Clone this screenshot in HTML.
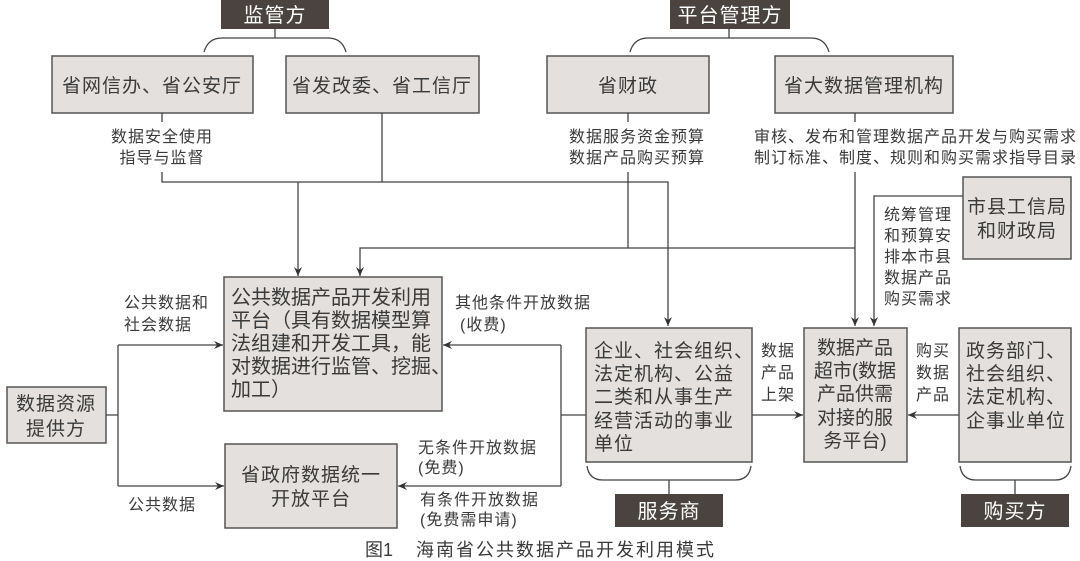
<!DOCTYPE html>
<html><head><meta charset="utf-8"><style>
html,body{margin:0;padding:0;background:#fff}
svg{display:block}
text{font-family:"Liberation Sans","Noto Sans CJK SC",sans-serif;fill:#3a3a3a}
.b{fill:#e3e0dd;stroke:#555;stroke-width:1.5}
.d{fill:#4a4340}
.w{fill:#fff}
.l{stroke:#444;stroke-width:1.3;fill:none}
</style></head><body>
<svg width="1080" height="561" viewBox="0 0 1080 561" xmlns="http://www.w3.org/2000/svg">
<defs><marker id="a" markerWidth="10" markerHeight="10" refX="9" refY="5" orient="auto" markerUnits="userSpaceOnUse"><path d="M0,1 L9,5 L0,9 L3,5 Z" fill="#333"/></marker></defs>

<rect class="d" x="221" y="0" width="108" height="29"/>
<text class="w" x="275" y="22" font-size="20" text-anchor="middle" letter-spacing="1">监管方</text>
<rect class="d" x="670" y="0" width="120" height="29"/>
<text class="w" x="730" y="22" font-size="20" text-anchor="middle" letter-spacing="1">平台管理方</text>
<path class="l" d="M275,29 V38 M204,52 Q208,38 222,38 H328 Q342,38 346,52"/>
<path class="l" d="M729,29 V38 M630,52 Q634,38 648,38 H811 Q825,38 829,52"/>

<rect class="b" x="52" y="56" width="201" height="57"/>
<text x="152" y="92" font-size="19" text-anchor="middle" letter-spacing="1">省网信办、省公安厅</text>
<rect class="b" x="286" y="56" width="193" height="57"/>
<text x="382" y="92" font-size="19" text-anchor="middle" letter-spacing="1">省发改委、省工信厅</text>
<rect class="b" x="547" y="56" width="162" height="57"/>
<text x="628" y="92" font-size="19" text-anchor="middle" letter-spacing="1">省财政</text>
<rect class="b" x="775" y="56" width="178" height="57"/>
<text x="864" y="92" font-size="19" text-anchor="middle" letter-spacing="1">省大数据管理机构</text>

<text x="162" y="142" font-size="16" text-anchor="middle" letter-spacing="1">数据安全使用</text>
<text x="162" y="163" font-size="16" text-anchor="middle" letter-spacing="1">指导与监督</text>
<text x="637" y="142" font-size="16" text-anchor="middle" letter-spacing="1">数据服务资金预算</text>
<text x="637" y="163" font-size="16" text-anchor="middle" letter-spacing="1">数据产品购买预算</text>
<text x="1077" y="142" font-size="16" text-anchor="end" letter-spacing="1">审核、发布和管理数据产品开发与购买需求</text>
<text x="1077" y="163" font-size="16" text-anchor="end" letter-spacing="1">制订标准、制度、规则和购买需求指导目录</text>

<path class="l" d="M162,113 V122 M162,172 V182 H668 V326" marker-end="url(#a)"/>
<path class="l" d="M382,113 V182"/>
<path class="l" d="M298,182 V276" marker-end="url(#a)"/>
<path class="l" d="M628,113 V122 M628,172 V248"/>
<path class="l" d="M855,113 V122 M855,172 V326" marker-end="url(#a)"/>
<path class="l" d="M855,248 H360 V276" marker-end="url(#a)"/>

<rect class="b" x="963" y="177" width="108" height="82"/>
<text x="1017" y="213" font-size="19" text-anchor="middle" letter-spacing="1">市县工信局</text>
<text x="1017" y="237" font-size="19" text-anchor="middle" letter-spacing="1">和财政局</text>
<path class="l" d="M963,196 H874 V326" marker-end="url(#a)"/>
<g font-size="16" letter-spacing="1">
<text x="884" y="220">统筹管理</text>
<text x="884" y="241">和预算安</text>
<text x="884" y="262">排本市县</text>
<text x="884" y="283">数据产品</text>
<text x="884" y="304">购买需求</text>
</g>

<rect class="b" x="224" y="277" width="218" height="134"/>
<g font-size="20">
<text x="231" y="304">公共数据产品开发利用</text>
<text x="231" y="327">平台（具有数据模型算</text>
<text x="231" y="350">法组建和开发工具，能</text>
<text x="231" y="373">对数据进行监管、挖掘、</text>
<text x="231" y="396">加工）</text>
</g>

<rect class="b" x="7" y="387" width="99" height="56"/>
<text x="56" y="410" font-size="19" text-anchor="middle" letter-spacing="1">数据资源</text>
<text x="56" y="435" font-size="19" text-anchor="middle" letter-spacing="1">提供方</text>
<path class="l" d="M106,415 H118 M118,345 V486"/>
<path class="l" d="M118,345 H223" marker-end="url(#a)"/>
<path class="l" d="M118,486 H224" marker-end="url(#a)"/>
<text x="124" y="308" font-size="16" letter-spacing="1">公共数据和</text>
<text x="124" y="330" font-size="16" letter-spacing="1">社会数据</text>
<text x="128" y="510" font-size="16" letter-spacing="1">公共数据</text>

<rect class="b" x="225" y="444" width="172" height="84"/>
<text x="311" y="481" font-size="19" text-anchor="middle" letter-spacing="1">省政府数据统一</text>
<text x="311" y="505" font-size="19" text-anchor="middle" letter-spacing="1">开放平台</text>

<path class="l" d="M561,345 V486 M561,415 H586"/>
<path class="l" d="M561,345 H443" marker-end="url(#a)"/>
<path class="l" d="M561,486 H398" marker-end="url(#a)"/>
<text x="455" y="308" font-size="16" letter-spacing="1">其他条件开放数据</text>
<text x="460" y="330" font-size="16" letter-spacing="1">(收费)</text>
<text x="418" y="453" font-size="16" letter-spacing="1">无条件开放数据</text>
<text x="418" y="473" font-size="16" letter-spacing="1">(免费)</text>
<text x="420" y="505" font-size="16" letter-spacing="1">有条件开放数据</text>
<text x="420" y="525" font-size="16" letter-spacing="1">(免费需申请)</text>

<rect class="b" x="586" y="328" width="166" height="134"/>
<g font-size="19" letter-spacing="1">
<text x="594" y="357">企业、社会组织、</text>
<text x="594" y="380">法定机构、公益</text>
<text x="594" y="403">二类和从事生产</text>
<text x="594" y="427">经营活动的事业</text>
<text x="594" y="450">单位</text>
</g>
<path class="l" d="M752,415 H803" marker-end="url(#a)"/>
<g font-size="16" letter-spacing="1">
<text x="761" y="356">数据</text><text x="761" y="378">产品</text><text x="761" y="400">上架</text>
<text x="916" y="356">购买</text><text x="916" y="378">数据</text><text x="916" y="400">产品</text>
</g>

<rect class="b" x="804" y="328" width="103" height="134"/>
<g font-size="19" text-anchor="middle">
<text x="855" y="354">数据产品</text>
<text x="855" y="377">超市(数据</text>
<text x="855" y="400">产品供需</text>
<text x="855" y="424">对接的服</text>
<text x="855" y="447">务平台)</text>
</g>
<path class="l" d="M959,415 H908" marker-end="url(#a)"/>

<rect class="b" x="959" y="328" width="112" height="134"/>
<g font-size="19" letter-spacing="1">
<text x="966" y="357">政务部门、</text>
<text x="966" y="380">社会组织、</text>
<text x="966" y="403">法定机构、</text>
<text x="966" y="427">企事业单位</text>
</g>

<path class="l" d="M587,466 Q589,480 603,480 H735 Q749,480 751,466 M669,480 V494"/>
<path class="l" d="M960,466 Q962,480 976,480 H1055 Q1069,480 1071,466 M1015,480 V494"/>
<rect class="d" x="615" y="494" width="108" height="33"/>
<text class="w" x="669" y="518" font-size="20" text-anchor="middle" letter-spacing="1">服务商</text>
<rect class="d" x="961" y="494" width="108" height="33"/>
<text class="w" x="1015" y="518" font-size="20" text-anchor="middle" letter-spacing="1">购买方</text>

<text x="365" y="556" font-size="18">图1</text>
<text x="416" y="556" font-size="18" letter-spacing="2">海南省公共数据产品开发利用模式</text>
</svg>
</body></html>
